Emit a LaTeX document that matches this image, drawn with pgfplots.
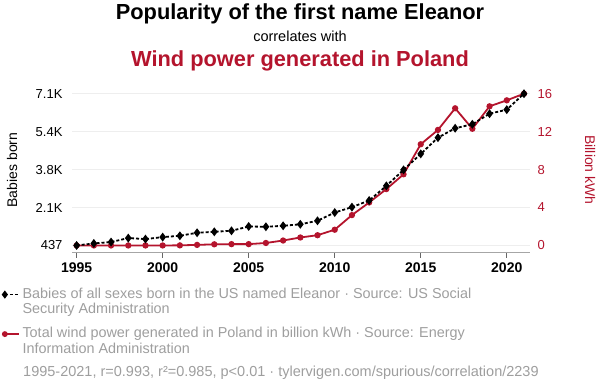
\documentclass[border=0pt]{standalone}
\usepackage{pgfplots}
\pgfplotsset{compat=1.18}
\usepackage{fontspec}
\setmainfont{Liberation Sans}
\definecolor{wred}{RGB}{180,20,45}
\definecolor{lgray}{RGB}{158,158,158}
\definecolor{gridc}{RGB}{238,238,238}
\begin{document}
\begin{tikzpicture}
% titles
\node[anchor=base, font=\fontsize{21.8bp}{26bp}\selectfont\bfseries] at (300bp,372.5bp) {Popularity of the first name Eleanor};
\node[anchor=base, font=\fontsize{14.5bp}{17bp}\selectfont] at (300bp,350.5bp) {correlates with};
\node[anchor=base, font=\fontsize{21.8bp}{26bp}\selectfont\bfseries, text=wred] at (300bp,325.5bp) {Wind power generated in Poland};
% axis labels
\node[rotate=90, font=\fontsize{14bp}{17bp}\selectfont] at (12bp,222bp) {Babies born};
\node[rotate=-90, font=\fontsize{14bp}{17bp}\selectfont, text=wred] at (590bp,222bp) {Billion kWh};
% footer
\node[anchor=base west, inner sep=0pt, font=\fontsize{14.5bp}{17bp}\selectfont, text=lgray] at (23bp,16bp) {1995-2021, r=0.993, r²=0.985, p<0.01 · tylervigen.com/spurious/correlation/2239};

\begin{axis}[
  name=wind,
  at={(72bp,140bp)}, anchor=south west,
  scale only axis, width=458bp, height=164bp,
  xmin=1994.73, xmax=2021.35,
  ymin=-0.69, ymax=16.6,
  clip=false,
  axis x line*=bottom, axis y line*=right,
  x axis line style={draw=gray!70, line width=0.8bp},
  y axis line style={draw=none},
  xtick={1995,2000,2005,2010,2015,2020},
  ytick={0,4,8,12,16},
  ymajorgrids, grid style={gridc, line width=0.8bp},
  tick align=outside, major tick length=6bp,
  xtick style={draw=gray!80!black, line width=0.8bp},
  ytick style={draw=none},
  /pgf/number format/assume math mode=true,
  /pgf/number format/1000 sep={},
  xticklabel style={font=\fontsize{14bp}{17bp}\selectfont\bfseries, yshift=-1bp},
  yticklabel style={font=\fontsize{13bp}{16bp}\selectfont, text=wred, xshift=-2bp},
]
\addplot[wred, line width=1.8bp, mark=*, mark size=2.2bp] coordinates {
(1995,0.0) (1996,0.0) (1997,0.0) (1998,0.0) (1999,0.0) (2000,0.0) (2001,0.01) (2002,0.06) (2003,0.12) (2004,0.14) (2005,0.14) (2006,0.26) (2007,0.52) (2008,0.84) (2009,1.08) (2010,1.66) (2011,3.2) (2012,4.53) (2013,5.94) (2014,7.5) (2015,10.67) (2016,12.18) (2017,14.46) (2018,12.3) (2019,14.67) (2020,15.3) (2021,16.0)
};
\end{axis}

\begin{axis}[
  at={(72bp,140bp)}, anchor=south west,
  scale only axis, width=458bp, height=164bp,
  xmin=1994.73, xmax=2021.35,
  ymin=149.6, ymax=7350,
  clip=false,
  hide x axis,
  axis y line*=left,
  y axis line style={draw=none},
  ytick={437,2102.75,3768.5,5434.25,7100},
  yticklabels={437,2.1K,3.8K,5.4K,7.1K},
  ytick style={draw=none},
  /pgf/number format/assume math mode=true,
  yticklabel style={font=\fontsize{13bp}{16bp}\selectfont, xshift=-6bp},
  legend style={at={(rel axis cs:-0.152,-0.205)}, anchor=north west, draw=none, fill=none,
    font=\fontsize{14.4bp}{15.6bp}\selectfont, text=lgray, inner sep=0pt,
    cells={anchor=west, align=left}, row sep=8bp, column sep=1bp},
  legend image code/.code={\draw[#1, line width=1.4bp, mark repeat=3, mark phase=1] plot coordinates {(0bp,7bp) (7bp,7bp) (14bp,7bp)};},
]
\addplot[black, line width=1.8bp, dash pattern=on 3bp off 2bp, mark=diamond*, mark size=3bp, mark options={solid}] coordinates {
(1995,437) (1996,525) (1997,587) (1998,761) (1999,717) (2000,803) (2001,862) (2002,994) (2003,1037) (2004,1081) (2005,1270) (2006,1257) (2007,1300) (2008,1366) (2009,1520) (2010,1882) (2011,2120) (2012,2410) (2013,3053) (2014,3755) (2015,4456) (2016,5170) (2017,5583) (2018,5758) (2019,6222) (2020,6399) (2021,7100)
};
\addlegendentry{Babies of all sexes born in the US named Eleanor · Source: US Social\\Security Administration}
\addlegendimage{wred, line width=1.8bp, mark=*, mark size=2.2bp}
\addlegendentry{Total wind power generated in Poland in billion kWh · Source: Energy\\Information Administration}
\end{axis}
\pgfresetboundingbox
\path[use as bounding box] (0,0) rectangle (600bp,392bp);
\end{tikzpicture}
\end{document}
